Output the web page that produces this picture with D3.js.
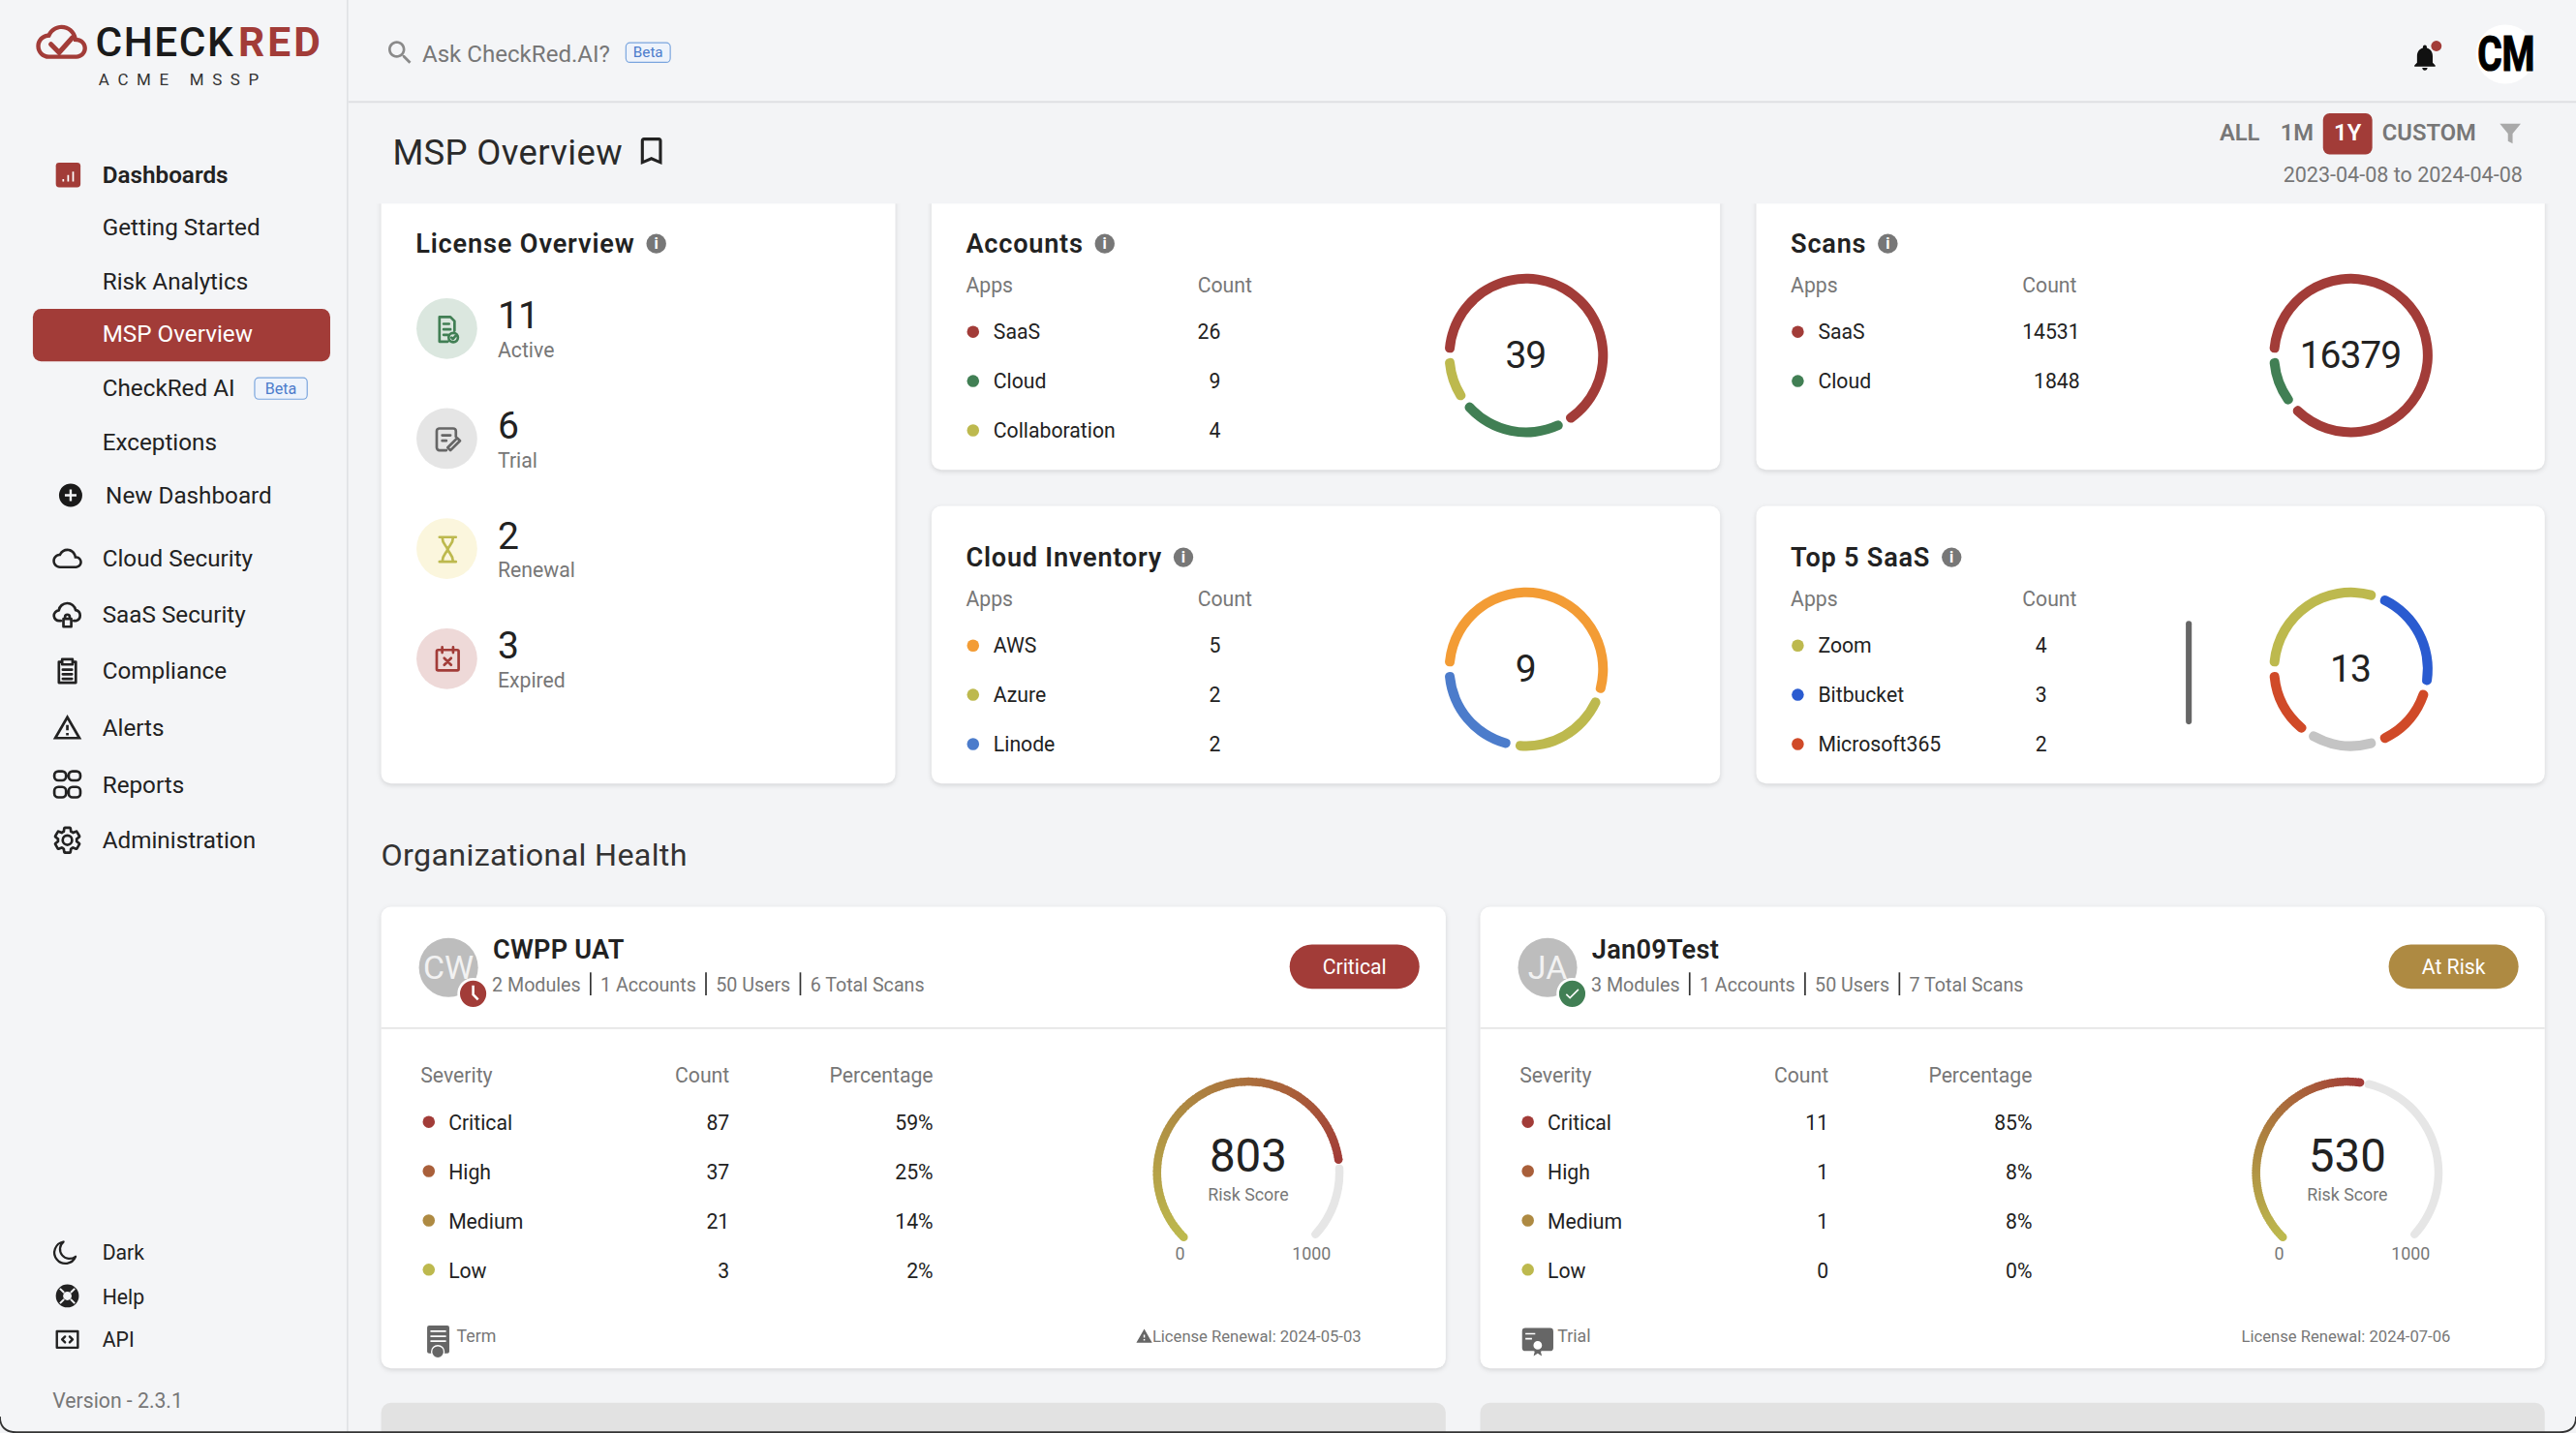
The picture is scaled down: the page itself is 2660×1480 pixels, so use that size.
<!DOCTYPE html>
<html>
<head>
<meta charset="utf-8">
<script src="https://cdn.jsdelivr.net/npm/d3@7"></script>
<style>
    html, body { margin: 0; padding: 0; background: #fff; }
    svg { display: block; }
    text { font-family: Roboto, sans-serif; }
</style>
</head>
<body>
<svg id="page"></svg>
<script>
// values
var accountsApps = ['SaaS', 'Cloud', 'Collaboration'];
var accountsCounts = [26, 9, 4];
var scansApps = ['SaaS', 'Cloud'];
var scansCounts = [14531, 1848];
var inventoryApps = ['AWS', 'Azure', 'Linode'];
var inventoryCounts = [5, 2, 2];
var top5Apps = ['Zoom', 'Bitbucket', 'Microsoft365'];   // the last two rows are scrolled out of view
var top5Counts = [4, 3, 2, 2, 2];
var licenseLabels = ['Active', 'Trial', 'Renewal', 'Expired'];
var licenseCounts = [11, 6, 2, 3];
var severities = ['Critical', 'High', 'Medium', 'Low'];
var cwppCounts = [87, 37, 21, 3];
var cwppPercents = ['59%', '25%', '14%', '2%'];
var cwppStats = ['2 Modules', '1 Accounts', '50 Users', '6 Total Scans'];
var cwppScore = 803;
var janCounts = [11, 1, 1, 0];
var janPercents = ['85%', '8%', '8%', '0%'];
var janStats = ['3 Modules', '1 Accounts', '50 Users', '7 Total Scans'];
var janScore = 530;
var scoreDomain = [0, 1000];
var navTop = ['Getting Started', 'Risk Analytics', 'MSP Overview', 'CheckRed AI', 'Exceptions'];
var navMain = ['Cloud Security', 'SaaS Security', 'Compliance', 'Alerts', 'Reports', 'Administration'];
var navBottom = ['Dark', 'Help', 'API'];
var rangeButtons = ['ALL', '1M', '1Y', 'CUSTOM'];

var RED = '#a23c38', GREEN = '#417f54', OLIVE = '#bdb94e', ORANGE = '#f39c35', BLUE = '#4c7ccb',
    DEEPBLUE = '#2a5bd0', VERMILION = '#d04a28', LIGHTGREY = '#c4c4c4', TAN = '#ae8a42', BROWN = '#a95f3a',
    INK = '#222', MUTED = '#777', PAGE = '#f3f4f6';
var severityColors = [RED, BROWN, TAN, OLIVE];

// everything is laid out in screenshot units (1568 wide), the viewBox scales it up
var W = 1568, H = 1480 * 1568 / 2660;
var svg = d3.select('#page').attr('width', 2660).attr('height', 1480).attr('viewBox', '0 0 ' + W + ' ' + H);

var ICONS = {
    search: 'M15.5 14h-.79l-.28-.27C15.41 12.59 16 11.11 16 9.5 16 5.91 13.09 3 9.5 3S3 5.91 3 9.5 5.91 16 9.5 16c1.61 0 3.09-.59 4.23-1.57l.27.28v.79l5 4.99L20.49 19l-4.99-5zm-6 0C7.01 14 5 11.99 5 9.5S7.01 5 9.5 5 14 7.01 14 9.5 11.99 14 9.5 14z',
    bell: 'M12 22c1.1 0 2-.9 2-2h-4c0 1.1.9 2 2 2zm6-6v-5c0-3.07-1.63-5.64-4.5-6.32V4c0-.83-.67-1.5-1.5-1.5s-1.5.67-1.5 1.5v.68C7.64 5.36 6 7.92 6 11v5l-2 2v1h16v-1l-2-2z',
    bookmark: 'M17 3H7c-1.1 0-2 .9-2 2v16l7-3 7 3V5c0-1.1-.9-2-2-2zm0 15l-5-2.18L7 18V5h10v13z',
    add: 'M12 2C6.48 2 2 6.48 2 12s4.48 10 10 10 10-4.48 10-10S17.52 2 12 2zm5 11h-4v4h-2v-4H7v-2h4V7h2v4h4v2z',
    cloud: 'M19.35 10.04C18.67 6.59 15.64 4 12 4 9.11 4 6.6 5.64 5.35 8.04 2.34 8.36 0 10.91 0 14c0 3.31 2.69 6 6 6h13c2.76 0 5-2.24 5-5 0-2.64-2.05-4.78-4.65-4.96zM19 18H6c-2.21 0-4-1.79-4-4 0-2.05 1.53-3.76 3.56-3.97l1.07-.11.5-.95C8.08 7.14 9.94 6 12 6c2.62 0 4.88 1.86 5.39 4.43l.3 1.5 1.53.11c1.56.1 2.78 1.41 2.78 2.96 0 1.65-1.35 3-3 3z',
    alert: 'M12 5.99L19.53 19H4.47L12 5.99M12 2L1 21h22L12 2zm1 14h-2v2h2v-2zm0-6h-2v4h2v-4z',
    warn: 'M1 21h22L12 2 1 21zm12-3h-2v-2h2v2zm0-4h-2v-4h2v4z',
    funnel: 'M3 4h18l-7 8.5V21l-4-2v-6.5z',
    check: 'M9 16.2L4.8 12l-1.4 1.4L9 19 21 7l-1.4-1.4z'
};
var STROKED = {
    gear: 'M19.14 12.94c.04-.3.06-.61.06-.94 0-.32-.02-.64-.07-.94l2.03-1.58c.18-.14.23-.41.12-.61l-1.92-3.32c-.12-.22-.37-.29-.59-.22l-2.39.96c-.5-.38-1.03-.7-1.62-.94l-.36-2.54c-.04-.24-.24-.41-.48-.41h-3.84c-.24 0-.43.17-.47.41l-.36 2.54c-.59.24-1.13.57-1.62.94l-2.39-.96c-.22-.08-.47 0-.59.22L2.74 8.87c-.12.21-.08.47.12.61l2.03 1.58c-.05.3-.09.63-.09.94s.02.64.07.94l-2.03 1.58c-.18.14-.23.41-.12.61l1.92 3.32c.12.22.37.29.59.22l2.39-.96c.5.38 1.03.7 1.62.94l.36 2.54c.05.24.24.41.48.41h3.84c.24 0 .44-.17.47-.41l.36-2.54c.59-.24 1.13-.56 1.62-.94l2.39.96c.22.08.47 0 .59-.22l1.92-3.32c.12-.22.07-.47-.12-.61l-2.01-1.58zM12 15.6c-1.98 0-3.6-1.62-3.6-3.6s1.62-3.6 3.6-3.6 3.6 1.62 3.6 3.6-1.62 3.6-3.6 3.6z',
    clipboard: 'M7 5H5.5v16h13V5H17M8 3h8v4H8zM8.5 11h7M8.5 14.5h7M8.5 18h7',
    grid: 'M5 2h3a3 3 0 0 1 3 3v1a3 3 0 0 1-3 3H5a3 3 0 0 1-3-3V5a3 3 0 0 1 3-3zM16 2h3a3 3 0 0 1 3 3v1a3 3 0 0 1-3 3h-3a3 3 0 0 1-3-3V5a3 3 0 0 1 3-3zM5 14h3a3 3 0 0 1 3 3v2a3 3 0 0 1-3 3H5a3 3 0 0 1-3-3v-2a3 3 0 0 1 3-3zM16 14h3a3 3 0 0 1 3 3v2a3 3 0 0 1-3 3h-3a3 3 0 0 1-3-3v-2a3 3 0 0 1 3-3z',
    moon: 'M21 16.5A10 10 0 1 1 10 3a8 8 0 0 0 11 13.5z',
    cloudLock: 'M7 17H6a4 4 0 0 1-.6-8 6.6 6.6 0 0 1 13-.2 4.2 4.2 0 0 1 .2 8.2H17M9 15.5h6v6H9zM10.2 15.5v-1.5a1.8 1.8 0 0 1 3.6 0v1.5',
    code: 'M3 5h18v14H3zM10 9.5L7.5 12l2.5 2.5M14 9.5l2.5 2.5-2.5 2.5',
    doc: 'M6 3h8l3 3v7M6 3v18h6M9 8h4M9 12h5M9 16h3M19.5 18a3.4 3.4 0 1 1-6.8 0 3.4 3.4 0 0 1 6.8 0zM14.8 18l1 1 1.8-2',
    note: 'M18 10V6a2 2 0 0 0-2-2H6a2 2 0 0 0-2 2v12a2 2 0 0 0 2 2h5M8 9h6M8 13h3M14 20l7-7-2-2-7 7z',
    calendar: 'M5 5h14a1 1 0 0 1 1 1v13a1 1 0 0 1-1 1H5a1 1 0 0 1-1-1V6a1 1 0 0 1 1-1zM8 3v4M16 3v4M9.5 11l5 5M14.5 11l-5 5',
    hourglass: 'M6 3h12M6 21h12M8 3c0 5 3 6 4 9-1 3-4 4-4 9M16 3c0 5-3 6-4 9 1 3 4 4 4 9'
};

function text(g, x, y, str, o) {
    o = o || {};
    return g.append('text').attr('x', x).attr('y', y).text(str)
        .attr('font-size', o.size || 12.5)
        .attr('font-weight', o.weight || 400)
        .attr('fill', o.fill || INK)
        .attr('text-anchor', o.anchor || 'start')
        .attr('letter-spacing', o.spacing || null)
        .attr('font-family', o.family || null);
}

function icon(g, name, cx, cy, size, color, width) {
    var s = size / 24;
    var n = g.append('g').attr('transform', 'translate(' + (cx - size / 2) + ',' + (cy - size / 2) + ') scale(' + s + ')');
    if (ICONS[name]) n.append('path').attr('d', ICONS[name]).attr('fill', color);
    else n.append('path').attr('d', STROKED[name]).attr('fill', 'none').attr('stroke', color)
        .attr('stroke-width', width || 2).attr('stroke-linejoin', 'round').attr('stroke-linecap', 'round');
}

function badge(g, x, y, w, h, size) {
    g.append('rect').attr('x', x).attr('y', y).attr('width', w).attr('height', h).attr('rx', 2.5)
        .attr('fill', '#eef3fb').attr('stroke', '#7aa5de').attr('stroke-width', 0.7);
    text(g, x + w / 2, y + h - 3.2, 'Beta', {size: size, fill: '#4c7ccb', anchor: 'middle'});
}

function infoDot(g, x, y) {
    g.append('circle').attr('cx', x).attr('cy', y).attr('r', 6).attr('fill', MUTED);
    text(g, x, y + 3.4, 'i', {size: 9.5, fill: '#fff', anchor: 'middle', weight: 700, family: 'Liberation Serif, serif'});
}

function card(x, y, w, h, r) {
    return svg.append('rect').attr('x', x).attr('y', y).attr('width', w).attr('height', h).attr('rx', r || 6)
        .attr('fill', '#fff').style('filter', 'drop-shadow(0 1px 1.5px rgba(0,0,0,.13))');
}

svg.append('rect').attr('width', W).attr('height', H).attr('fill', PAGE);

// ---- top row cards, their tops slide under the title strip
card(232, 100, 313, 377);
card(567, 100, 480, 186);
card(1069, 100, 480, 186);
card(567, 308, 480, 169);
card(1069, 308, 480, 169);
svg.append('rect').attr('x', 212).attr('y', 62).attr('width', W - 212).attr('height', 62).attr('fill', PAGE);

// ---- donut cards
var donutPie = d3.pie().sort(null).startAngle(-Math.PI / 2).endAngle(Math.PI * 1.5).padAngle(0);
var donutArc = d3.arc().innerRadius(43.8).outerRadius(49.7).cornerRadius(2.9);

function donutCard(o) {
    var g = svg.append('g');
    var titleNode = text(g, o.x, o.y + 25.8, o.title, {size: 16, weight: 600, spacing: 0.45});
    infoDot(g, o.x + titleNode.node().getComputedTextLength() + 13, o.y + 20.3);
    text(g, o.x, o.y + 49.8, 'Apps', {fill: MUTED});
    text(g, o.x + 141, o.y + 49.8, 'Count', {fill: MUTED});
    o.apps.forEach(function(app, i) {
        var cy = o.y + 74 + i * 30;
        g.append('circle').attr('cx', o.x + 4.3).attr('cy', cy).attr('r', 3.7).attr('fill', o.colors[i]);
        text(g, o.x + 16.7, cy + 4.5, app);
        text(g, o.x + o.countRight, cy + 4.5, o.counts[i], {anchor: 'end'});
    });
    var total = d3.sum(o.counts);
    var d = g.append('g').attr('transform', 'translate(' + o.cx + ',' + (o.y + 88.4) + ')');
    d.selectAll('path').data(donutPie(o.counts)).enter().append('path')
        .attr('d', function(s) {
            // leave a small gap between segments
            return donutArc({startAngle: s.startAngle + 0.035, endAngle: s.endAngle - 0.035});
        })
        .attr('fill', function(s, i) { return o.colors[i]; });
    text(d, -0.4, 7.6, total, {size: 23, anchor: 'middle', family: 'Lato, sans-serif', spacing: -0.6});
}

donutCard({x: 588, y: 128, title: 'Accounts', apps: accountsApps, counts: accountsCounts, colors: [RED, GREEN, OLIVE], countRight: 155, cx: 929});
donutCard({x: 1090, y: 128, title: 'Scans', apps: scansApps, counts: scansCounts, colors: [RED, GREEN], countRight: 176, cx: 1431});
donutCard({x: 588, y: 319, title: 'Cloud Inventory', apps: inventoryApps, counts: inventoryCounts, colors: [ORANGE, OLIVE, BLUE], countRight: 155, cx: 929});
donutCard({x: 1090, y: 319, title: 'Top 5 SaaS', apps: top5Apps, counts: top5Counts, colors: [OLIVE, DEEPBLUE, VERMILION, LIGHTGREY, VERMILION], countRight: 156, cx: 1431});
// legend scrollbar
svg.append('rect').attr('x', 1330.5).attr('y', 378).attr('width', 3.6).attr('height', 63).attr('rx', 1.8).attr('fill', '#666');

// ---- license overview
var licenseG = svg.append('g');
var lt = text(licenseG, 253, 153.8, 'License Overview', {size: 16, weight: 600, spacing: 0.5});
infoDot(licenseG, 253 + lt.node().getComputedTextLength() + 13, 148.3);
var licenseFills = ['#dbe7df', '#e5e5e5', '#fbf6dd', '#eed9d8'];
var licenseInk = [GREEN, '#666', OLIVE, RED];
var licenseIcons = ['doc', 'note', 'hourglass', 'calendar'];
licenseLabels.forEach(function(label, i) {
    var cy = 200 + i * 67;
    licenseG.append('circle').attr('cx', 272).attr('cy', cy).attr('r', 18.5).attr('fill', licenseFills[i]);
    icon(licenseG, licenseIcons[i], 272.5, cy + 0.5, 20, licenseInk[i], 1.9);
    text(licenseG, 303, cy, licenseCounts[i], {size: 23, family: 'Lato, sans-serif', spacing: -0.6});
    text(licenseG, 303, cy + 17.5, label, {fill: MUTED});
});

// ---- organizational health
text(svg, 232, 527, 'Organizational Health', {size: 19, fill: '#333', spacing: 0.2});

var gaugeAngle = d3.scaleLinear().domain(scoreDomain).range([-135 * Math.PI / 180, 135 * Math.PI / 180]);
var gaugeColor = d3.scaleLinear().domain([0, 0.4, 0.75, 1]).range([OLIVE, TAN, BROWN, RED]);
var gaugeArc = d3.arc().innerRadius(53).outerRadius(58);
var gaugeTrack = d3.arc().innerRadius(53).outerRadius(58).cornerRadius(2.5);

function orgCard(o) {
    var dx = o.dx;
    card(232 + dx, 552, 648, 281);
    var g = svg.append('g').attr('transform', 'translate(' + dx + ',0)');
    g.append('line').attr('x1', 232).attr('x2', 880).attr('y1', 626).attr('y2', 626).attr('stroke', '#e6e6e6');

    // avatar and status
    g.append('circle').attr('cx', 273).attr('cy', 589).attr('r', 18).attr('fill', '#bdbdbd');
    text(g, 273, 596, o.initials, {size: 20, fill: '#f2f2f2', anchor: 'middle'});
    g.append('circle').attr('cx', 288).attr('cy', 605).attr('r', 8.8).attr('fill', o.statusColor).attr('stroke', '#fff').attr('stroke-width', 1.6);
    if (o.statusIcon === 'check') {
        icon(g, 'check', 288, 605, 11, '#fff');
    } else {
        g.append('path').attr('d', 'M288 600v5.5l3 3').attr('fill', 'none').attr('stroke', '#fff').attr('stroke-width', 1.5);
    }

    text(g, 300, 583.6, o.name, {size: 16, weight: 600, spacing: 0.15});
    var sx = 299.5;
    o.stats.forEach(function(s, i) {
        var n = text(g, sx, 603.4, s, {size: 11.6, fill: MUTED});
        sx += n.node().getComputedTextLength();
        if (i < o.stats.length - 1) {
            g.append('line').attr('x1', sx + 6).attr('x2', sx + 6).attr('y1', 592).attr('y2', 606).attr('stroke', '#333').attr('stroke-width', 1);
            sx += 12;
        }
    });

    g.append('rect').attr('x', 785).attr('y', 575).attr('width', 79).attr('height', 27).attr('rx', 13.5).attr('fill', o.pillColor);
    text(g, 824.5, 592.8, o.pill, {fill: '#fff', anchor: 'middle'});

    // severity table
    text(g, 256, 659, 'Severity', {fill: MUTED});
    text(g, 444, 659, 'Count', {fill: MUTED, anchor: 'end'});
    text(g, 568, 659, 'Percentage', {fill: MUTED, anchor: 'end'});
    severities.forEach(function(sev, i) {
        var cy = 683 + i * 30;
        g.append('circle').attr('cx', 261).attr('cy', cy).attr('r', 3.7).attr('fill', severityColors[i]);
        text(g, 273, cy + 5, sev);
        text(g, 444, cy + 5, o.counts[i], {anchor: 'end'});
        text(g, 568, cy + 5, o.percents[i], {anchor: 'end'});
    });

    // risk gauge, the filled part is cut in short pieces to get the colour ramp along the arc
    var gauge = g.append('g').attr('transform', 'translate(759.8,714)');
    var a0 = gaugeAngle(scoreDomain[0]), a1 = gaugeAngle(o.score), a2 = gaugeAngle(scoreDomain[1]);
    gauge.append('path').attr('d', gaugeTrack({startAngle: a1 + 0.05, endAngle: a2})).attr('fill', '#e6e6e6');
    var ramp = d3.range(0, 1, 1 / 90);
    gauge.selectAll('.piece').data(ramp).enter().append('path').attr('class', 'piece')
        .attr('d', function(f) {
            return gaugeArc({startAngle: a0 + (a1 - a0) * f, endAngle: a0 + (a1 - a0) * (f + 1 / 90) + 0.01});
        })
        .attr('fill', function(f) { return gaugeColor(f); });
    [[a0, 0], [a1, 1]].forEach(function(cap) {
        gauge.append('circle').attr('cx', 55.5 * Math.sin(cap[0])).attr('cy', -55.5 * Math.cos(cap[0])).attr('r', 2.5).attr('fill', gaugeColor(cap[1]));
    });
    text(gauge, 0, -0.5, o.score, {size: 28, anchor: 'middle'});
    text(gauge, 0, 17, 'Risk Score', {size: 10.5, fill: MUTED, anchor: 'middle'});
    text(gauge, -41.5, 53, scoreDomain[0], {size: 10.5, fill: MUTED, anchor: 'middle'});
    text(gauge, 38.5, 53, scoreDomain[1], {size: 10.5, fill: MUTED, anchor: 'middle'});

    // footer
    if (o.plan === 'Term') {
        g.append('rect').attr('x', 260).attr('y', 807).attr('width', 13.5).attr('height', 17).attr('rx', 1.2).attr('fill', '#666');
        g.append('path').attr('d', 'M262 810.5h9.5M262 813.5h9.5M262 816.5h9.5').attr('stroke', '#fff').attr('stroke-width', 1);
        g.append('circle').attr('cx', 266.5).attr('cy', 823).attr('r', 3.8).attr('fill', '#666').attr('stroke', '#fff').attr('stroke-width', 0.8);
    } else {
        g.append('rect').attr('x', 257.5).attr('y', 808.5).attr('width', 19).attr('height', 14).attr('rx', 2).attr('fill', '#666');
        g.append('path').attr('d', 'M259.5 812h6M259.5 815h4').attr('stroke', '#fff').attr('stroke-width', 1);
        g.append('path').attr('d', 'M265.5 821.5l-1 4 2.5-1.5 2.5 1.5-1-4').attr('fill', '#666');
        g.append('circle').attr('cx', 267).attr('cy', 819).attr('r', 3.4).attr('fill', '#fff').attr('stroke', '#666').attr('stroke-width', 1.6);
    }
    text(g, o.planX, 817, o.plan, {size: 10.5, fill: MUTED});
    if (o.warn) icon(g, 'warn', 696.5, 813.5, 10.5, '#666');
    text(g, o.renewalX, 817, 'License Renewal: ' + o.renewal, {size: 9.8, fill: MUTED, anchor: 'middle'});
}

orgCard({dx: 0, initials: 'CW', name: 'CWPP UAT', statusColor: RED, statusIcon: 'clock', stats: cwppStats, pill: 'Critical', pillColor: RED,
    counts: cwppCounts, percents: cwppPercents, score: cwppScore, plan: 'Term', planX: 278, renewal: '2024-05-03', renewalX: 765, warn: true});
orgCard({dx: 669, initials: 'JA', name: 'Jan09Test', statusColor: GREEN, statusIcon: 'check', stats: janStats, pill: 'At Risk', pillColor: TAN,
    counts: janCounts, percents: janPercents, score: janScore, plan: 'Trial', planX: 279, renewal: '2024-07-06', renewalX: 759, warn: false});

// next row of cards, still loading
[232, 901].forEach(function(x) {
    svg.append('rect').attr('x', x).attr('y', 854).attr('width', 648).attr('height', 40).attr('rx', 6).attr('fill', '#e2e2e2');
});

// ---- header
svg.append('rect').attr('x', 212).attr('width', W - 212).attr('height', 62).attr('fill', '#f4f5f7');
svg.append('line').attr('x1', 212).attr('x2', W).attr('y1', 62).attr('y2', 62).attr('stroke', '#dfe0e3').attr('stroke-width', 1.2);
icon(svg, 'search', 243.5, 32, 19, '#8a8a8a');
text(svg, 257, 37.5, 'Ask CheckRed.AI?', {size: 14.2, fill: MUTED});
badge(svg, 381, 26, 27, 12, 9);
icon(svg, 'bell', 1476, 35, 19, '#111');
svg.append('circle').attr('cx', 1483).attr('cy', 28).attr('r', 3.2).attr('fill', RED);
svg.append('circle').attr('cx', 1525).attr('cy', 33).attr('r', 18).attr('fill', '#fff');
text(svg, 1508, 43, 'CM', {size: 29, weight: 700, fill: '#000', family: 'Liberation Sans, sans-serif'})
    .attr('textLength', 35).attr('lengthAdjust', 'spacingAndGlyphs').attr('stroke', '#000').attr('stroke-width', 0.7);

// ---- page title and range filter
text(svg, 239, 100, 'MSP Overview', {size: 21.5, fill: '#2a2a2a', spacing: 0.2});
icon(svg, 'bookmark', 396.5, 92, 22, '#222');
var rangeX = [1351, 1388, 1429, 1450];
svg.append('rect').attr('x', 1414).attr('y', 69).attr('width', 30).attr('height', 25).attr('rx', 4).attr('fill', RED);
rangeButtons.forEach(function(b, i) {
    text(svg, rangeX[i], 85.5, b, {size: 14, weight: 600, fill: b === '1Y' ? '#fff' : MUTED, anchor: b === '1Y' ? 'middle' : 'start'});
});
icon(svg, 'funnel', 1528, 81, 17, '#a9a9a9');
text(svg, 1535.5, 111, '2023-04-08 to 2024-04-08', {size: 12.7, fill: MUTED, anchor: 'end'});

// ---- sidebar
var side = svg.append('g');
side.append('rect').attr('width', 211).attr('height', H).attr('fill', '#f4f5f7');
side.append('line').attr('x1', 211.5).attr('x2', 211.5).attr('y1', 0).attr('y2', H).attr('stroke', '#e0e2e5');

// logo
icon(side, 'cloud', 37.5, 25.5, 31, RED);
side.append('path').attr('d', 'M31 27l5 5 8-9').attr('fill', 'none').attr('stroke', RED).attr('stroke-width', 3).attr('stroke-linecap', 'round');
text(side, 58, 34, 'CHECK', {size: 25, weight: 500, fill: '#1a1a1a', family: 'Lato, sans-serif'}).attr('textLength', 84);
text(side, 145, 34, 'RED', {size: 25, weight: 700, fill: RED, family: 'Lato, sans-serif'}).attr('textLength', 50);
text(side, 60, 52, 'ACME MSSP', {size: 10, fill: '#333', spacing: 5.1});

// nav
side.append('rect').attr('x', 34).attr('y', 99).attr('width', 15).attr('height', 15).attr('rx', 2).attr('fill', RED);
side.append('path').attr('d', 'M38.5 110.5v-1.5M41.5 110.5v-4M44.5 110.5v-6').attr('stroke', '#fff').attr('stroke-width', 1);
text(side, 62.3, 111.4, 'Dashboards', {size: 14.3, weight: 600});

side.append('rect').attr('x', 20).attr('y', 188).attr('width', 181).attr('height', 32).attr('rx', 5).attr('fill', RED);
var navTopY = [138, 171, 203, 236, 269];
navTop.forEach(function(item, i) {
    text(side, 62.3, navTopY[i] + 5, item, {size: 14.3, fill: item === 'MSP Overview' ? '#fff' : INK});
});
badge(side, 155, 230, 32, 13, 9.5);
icon(side, 'add', 43, 301.5, 17, '#1a1a1a');
text(side, 64.3, 306.5, 'New Dashboard', {size: 14.3});

var navMainY = [340, 374, 408.5, 443, 477.5, 511.5];
var navMainIcons = ['cloud', 'cloudLock', 'clipboard', 'alert', 'grid', 'gear'];
navMain.forEach(function(item, i) {
    icon(side, navMainIcons[i], 41, navMainY[i], i === 0 ? 18 : 19, '#222', 2);
    text(side, 62.3, navMainY[i] + 5, item, {size: 14.3});
});

var navBottomY = [762, 789, 815];
navBottom.forEach(function(item, i) {
    text(side, 62.3, navBottomY[i] + 5, item, {size: 12.5});
});
icon(side, 'moon', 40, 762, 16, '#222', 2);
side.append('circle').attr('cx', 41).attr('cy', 789).attr('r', 7).attr('fill', '#222');
side.append('circle').attr('cx', 41).attr('cy', 789).attr('r', 2.6).attr('fill', '#f4f5f7');
side.append('path').attr('d', 'M36.5 784.5l2.5 2.5M45.5 784.5l-2.5 2.5M36.5 793.5l2.5-2.5M45.5 793.5l-2.5-2.5').attr('stroke', '#f4f5f7').attr('stroke-width', 1.2);
icon(side, 'code', 41, 815.5, 17, '#222', 2);
text(side, 32, 856.8, 'Version - 2.3.1', {size: 12.5, fill: MUTED});

// window edge of the original screen capture
svg.append('path')
    .attr('d', 'M0 ' + (H - 10) + 'q0 9.5 10 9.5H' + (W - 10) + 'q10 0 10 -9.5')
    .attr('fill', 'none').attr('stroke', '#333').attr('stroke-width', 1);
</script>
</body>
</html>
